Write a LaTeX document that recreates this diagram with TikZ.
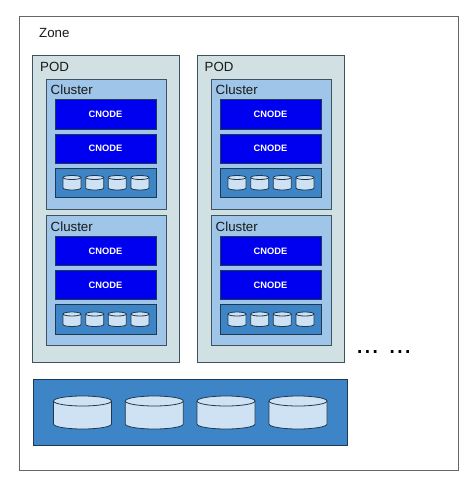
\documentclass[tikz,border=0pt]{standalone}
\usepackage{fontspec}
\setmainfont{Liberation Sans}
\definecolor{podfill}{HTML}{D0E0E3}
\definecolor{clusterfill}{HTML}{9FC5E8}
\definecolor{cnodefill}{HTML}{0000F0}
\definecolor{storefill}{HTML}{3D85C6}
\definecolor{cylfill}{HTML}{CFE2F3}
\definecolor{edgecol}{HTML}{3F5260}
\definecolor{zoneedge}{HTML}{666666}
\definecolor{cyledge}{HTML}{1F3A50}
\tikzset{
  zonebox/.style={draw=zoneedge,line width=1pt,fill=white},
  podbox/.style={draw=edgecol,line width=.8pt,fill=podfill},
  clusterbox/.style={draw=edgecol,line width=.8pt,fill=clusterfill},
  storebox/.style={draw=cyledge,line width=.8pt,fill=storefill},
  cnodebox/.style={draw=cyledge,line width=.6pt,fill=cnodefill},
  cnodetext/.style={text=white,font=\fontsize{9.3}{11}\selectfont\bfseries,inner sep=0pt},
  lbl/.style={anchor=west,inner sep=0pt,text=black!90,font=\fontsize{13.3}{15}\selectfont},
  dotstext/.style={anchor=base,inner sep=0pt,font=\fontsize{28}{30}\selectfont},
  cyl/.style={draw=cyledge,fill=cylfill,line width=.8pt,line join=round},
}
% #1 left, #2 top, #3 right, #4 bottom, #5 cap height (full)
\newcommand{\cylshape}[5]{%
  \pgfmathsetmacro{\cxm}{(#1+#3)/2}%
  \pgfmathsetmacro{\cdx}{(#3-#1)/2*0.5523}%
  \pgfmathsetmacro{\cdy}{#5/2*0.5523}%
  \pgfmathsetmacro{\cyt}{#2+#5/2}%
  \pgfmathsetmacro{\cyb}{#4-#5/2}%
  \draw[cyl] (#1,\cyt)
    .. controls (#1,\cyt-\cdy) and (\cxm-\cdx,#2) .. (\cxm,#2)
    .. controls (\cxm+\cdx,#2) and (#3,\cyt-\cdy) .. (#3,\cyt)
    -- (#3,\cyb)
    .. controls (#3,\cyb+\cdy) and (\cxm+\cdx,#4) .. (\cxm,#4)
    .. controls (\cxm-\cdx,#4) and (#1,\cyb+\cdy) .. (#1,\cyb)
    -- cycle;
  \draw[cyl,fill=none] (#1,\cyt)
    .. controls (#1,\cyt+\cdy) and (\cxm-\cdx,#2+#5) .. (\cxm,#2+#5)
    .. controls (\cxm+\cdx,#2+#5) and (#3,\cyt+\cdy) .. (#3,\cyt);
}
% #1 x-offset, #2 y-offset, #3 name
\newcommand{\clustergroup}[3]{%
  \begin{scope}[shift={(#1,#2)}]
    \draw[clusterbox] (46,79) rectangle (166,209);
    \node[lbl] (#3label) at (50.5,90) {Cluster};
    \draw[cnodebox] (55.5,99.5) rectangle (156,129);
    \node[cnodetext] (#3a) at (105.5,114.5) {CNODE};
    \draw[cnodebox] (55.5,134) rectangle (156,163);
    \node[cnodetext] (#3b) at (105.5,148.5) {CNODE};
    \draw[storebox] (55.5,168) rectangle (156,197.5);
    \cylshape{63}{175.5}{81}{190}{4}
    \cylshape{85.7}{175.5}{103.7}{190}{4}
    \cylshape{108.3}{175.5}{126.3}{190}{4}
    \cylshape{131}{175.5}{149}{190}{4}
  \end{scope}
}
\begin{document}
\begin{tikzpicture}[x=1pt,y=-1pt]
\useasboundingbox (0,0) rectangle (474,485);
\draw[zonebox] (19,16) rectangle (458,470);
\node[lbl] (zone) at (39,33) {Zone};

\draw[podbox] (32,55) rectangle (179,362);
\node[lbl] (pod1) at (40,67) {POD};
\clustergroup{0}{0}{ca}
\clustergroup{0}{136.5}{cb}

\draw[podbox] (197,55) rectangle (344,362);
\node[lbl] (pod2) at (204.5,67) {POD};
\clustergroup{165}{0}{cc}
\clustergroup{165}{136.5}{cd}

\node[dotstext] (dotsa) at (367.5,353.5) {...};
\node[dotstext] (dotsb) at (400,353.5) {...};

\draw[storebox] (33,379) rectangle (347,445);
\cylshape{53.5}{396}{111.5}{429}{10}
\cylshape{125.3}{396}{183.3}{429}{10}
\cylshape{197}{396}{255}{429}{10}
\cylshape{269}{396}{327}{429}{10}
\end{tikzpicture}
\end{document}
